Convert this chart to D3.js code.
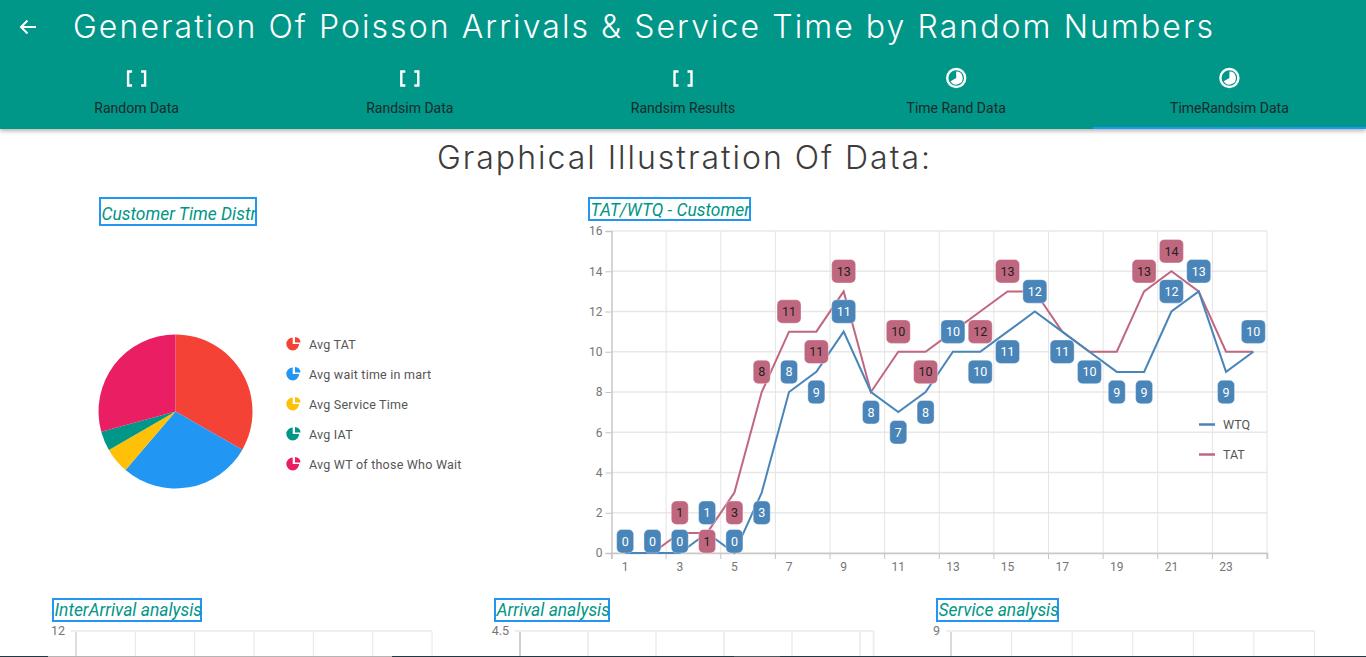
<!DOCTYPE html>
<html><head><meta charset="utf-8">
<script src="https://cdn.jsdelivr.net/npm/d3@7"></script>
<style>html,body{margin:0;padding:0;background:#fff;overflow:hidden}svg{display:block}text{font-family:Roboto,sans-serif}</style>
</head><body><svg id="c" width="1366" height="657"></svg>
<script>
const pageTitle = "Generation Of Poisson Arrivals & Service Time by Random Numbers";
const sectionTitle = "Graphical Illustration Of Data:";
const tabLabels = ["Random Data","Randsim Data","Randsim Results","Time Rand Data","TimeRandsim Data"];
const tabIcons = ["brackets","brackets","brackets","clock","clock"];
const pieLabels = ["Avg TAT","Avg wait time in mart","Avg Service Time","Avg IAT","Avg WT of those Who Wait"];
const pieValues = [33.25,28,5.4,4.1,29.25];
const pieColors = ["#f44336","#2196f3","#ffc107","#009688","#e91e63"];
const customers = d3.range(1,25);
const wtq = [0,0,0,1,0,3,8,9,11,8,7,8,10,10,11,12,11,10,9,9,12,13,9,10];
const tat = [0,0,1,1,3,8,11,11,13,8,10,10,11,12,13,13,11,10,10,13,14,13,10,10];
// label side: +1 above the point, -1 below, 0 not shown
const wtqSide = [-1,-1,-1,1,-1,-1,1,-1,1,-1,-1,-1,1,-1,-1,1,-1,-1,-1,-1,1,1,-1,1];
const tatSide = [0,0,1,-1,-1,1,1,-1,1,0,1,-1,0,-1,1,0,0,0,0,1,1,0,0,0];
const yTicks = [0,2,4,6,8,10,12,14,16];
const seriesNames = ["WTQ","TAT"];
const seriesColors = ["#4a85b9","#c06780"];
const panelTitles = ["InterArrival analysis","Arrival analysis","Service analysis"];
const panelTops = ["12","4.5","9"];
const panelGrid = [[0,1,2,3,4,5,6],[0,1,2,3,4,5,5.2],[0,1,2,3,4,5,6]];

const svg = d3.select("#c");
const defs = svg.append("defs");
const sh = defs.append("filter").attr("id","sh").attr("x","-5%").attr("y","-5%").attr("width","110%").attr("height","120%");
sh.append("feDropShadow").attr("dx",0).attr("dy",2).attr("stdDeviation",2).attr("flood-color","#000").attr("flood-opacity",.3);

// header
svg.append("rect").attr("width",1366).attr("height",129).attr("fill","#009688").attr("filter","url(#sh)");
svg.append("path").attr("d","M36 27H21M27.5 20.5L21 27L27.5 33.5").attr("fill","none").attr("stroke","#fff").attr("stroke-width",2);
svg.append("text").attr("x",73).attr("y",38).attr("fill","#fff").attr("textLength",1140).attr("lengthAdjust","spacing").style("font-family","Inter").style("font-weight",300).style("font-size","32px").text(pageTitle);
const tabX = d3.scaleBand().domain(tabLabels).range([0,1366]);
const tabs = svg.selectAll("g.tab").data(tabLabels).join("g").attr("class","tab").attr("transform",d=>`translate(${tabX(d)+tabX.bandwidth()/2},0)`);
tabs.append("text").attr("text-anchor","middle").attr("y",113).attr("fill","#1c2a2a").style("font-size","14px").text(d=>d);
tabs.each(function(d,i){
  const g=d3.select(this);
  if(tabIcons[i]==="brackets"){
    g.append("path").attr("d","M-4.5 71.5H-8.5V85.5H-4.5M4.5 71.5H8.5V85.5H4.5").attr("fill","none").attr("stroke","#fff").attr("stroke-width",2.4);
  } else {
    g.append("circle").attr("cy",78).attr("r",9).attr("fill","none").attr("stroke","#fff").attr("stroke-width",2.4);
    g.append("path").attr("d",d3.arc()({innerRadius:0,outerRadius:6.5,startAngle:0,endAngle:4.2})).attr("transform","translate(0,78)").attr("fill","#fff");
  }
});
svg.append("rect").attr("x",tabX(tabLabels[4])).attr("y",127).attr("width",tabX.bandwidth()).attr("height",2).attr("fill","#2196f3");
svg.append("text").attr("x",437).attr("y",169).attr("fill","#3c3c3c").attr("textLength",493).attr("lengthAdjust","spacing").style("font-family","Inter").style("font-weight",300).style("font-size","32px").text(sectionTitle);

// boxed titles
function boxed(id,label,x,y,w,h,dy){
  defs.append("clipPath").attr("id",id).append("rect").attr("x",x).attr("y",y).attr("width",w).attr("height",h);
  svg.append("rect").attr("x",x).attr("y",y).attr("width",w).attr("height",h).attr("fill","none").attr("stroke","#2196f3").attr("stroke-width",2);
  svg.append("g").attr("clip-path",`url(#${id})`).append("text").attr("x",x+1.5).attr("y",y+h/2+dy).attr("fill","#009688").style("font-style","italic").style("font-weight",400).style("font-size","17.4px").text(label);
}
boxed("b0","Customer Time Distribution",100,198,156,27,8.5);
boxed("b1","TAT/WTQ - Customer",589,198,161,22,7);
boxed("b2",panelTitles[0],53,599,148,22,5.5);
boxed("b3",panelTitles[1],495,599,114,22,5.5);
boxed("b4",panelTitles[2],937,599,121,22,5.5);

// pie
const pie = d3.pie().sort(null)(pieValues);
const arc = d3.arc().innerRadius(0).outerRadius(77);
svg.append("g").attr("transform","translate(175.5,411.5)").selectAll("path").data(pie).join("path").attr("d",arc).attr("fill",(d,i)=>pieColors[i]);
const legY = d3.scalePoint().domain(pieLabels).range([344.5,464.5]);
const leg = svg.append("g").selectAll("g").data(pieLabels).join("g").attr("transform",d=>`translate(293,${legY(d)})`);
leg.append("path").attr("d",d3.arc()({innerRadius:0,outerRadius:6.4,startAngle:Math.PI/2,endAngle:Math.PI*2})).attr("transform","translate(-.3,-.5)").attr("fill",(d,i)=>pieColors[i]);
leg.append("path").attr("d",d3.arc()({innerRadius:0,outerRadius:5.5,startAngle:0,endAngle:Math.PI/2})).attr("transform","translate(2,-2)").attr("fill",(d,i)=>pieColors[i]);
leg.append("text").attr("x",16).attr("y",4.5).attr("fill","#555").style("font-size","12.5px").style("letter-spacing",".22px").text(d=>d);

// line chart
const x = d3.scaleBand().domain(customers).range([611.5,1267]);
const y = d3.scaleLinear().domain([0,16]).range([553,231]);
const gridX = customers.filter((d,i)=>i%2===0);
const chart = svg.append("g");
chart.append("g").selectAll("line").data(yTicks).join("line").attr("x1",611).attr("x2",1267).attr("y1",d=>y(d)).attr("y2",d=>y(d)).attr("stroke",d=>d===16?"#eeeeee":"#e8e8e8").attr("stroke-width",d=>d===16?2:1.3);
chart.append("g").selectAll("line").data(gridX.slice(1).concat([25])).join("line").attr("x1",d=>d===25?1267:x(d)).attr("x2",d=>d===25?1267:x(d)).attr("y1",231).attr("y2",553).attr("stroke","#e4e4e4").attr("stroke-width",1);
const yAxis = chart.append("g").attr("transform","translate(611.5,0)").call(d3.axisLeft(y).tickValues(yTicks).tickSize(6).tickPadding(3));
const xAxis = chart.append("g").attr("transform","translate(0,553)").call(d3.axisBottom(x).tickValues(gridX).tickSize(6).tickPadding(3));
xAxis.selectAll(".tick line").attr("transform",`translate(${-x.bandwidth()/2},0)`);
xAxis.append("line").attr("x1",1267).attr("x2",1267).attr("y1",0).attr("y2",6).attr("stroke","#c4c4c4");
[yAxis,xAxis].forEach(a=>{a.selectAll(".tick text").attr("fill","#757575").style("font-size","12px").style("font-family","Roboto");a.selectAll(".tick line").attr("stroke","#c4c4c4");a.select(".domain").attr("stroke","#c8c8c8").attr("stroke-width",1.5);});
const px = i=>x(customers[i])+x.bandwidth()/2;
const line = d3.line().x((d,i)=>px(i)).y(d=>y(d));
[tat,wtq].forEach((s,k)=>chart.append("path").attr("d",line(s)).attr("fill","none").attr("stroke",seriesColors[1-k]).attr("stroke-width",2));
function labels(vals,side,color,tcolor,weight){
  const g=chart.append("g");
  vals.forEach((v,i)=>{
    if(!side[i])return;
    const t=String(v), w=t.length>1?24:17, h=23.5;
    const cy=Math.min(y(v+side[i]),y(0)-h/2);
    g.append("rect").attr("x",px(i)-w/2).attr("y",cy-h/2).attr("width",w).attr("height",h).attr("rx",5).attr("fill",color).attr("stroke","#fff").attr("stroke-opacity",.35).attr("stroke-width",1);
    g.append("text").attr("x",px(i)).attr("y",cy+4.5).attr("text-anchor","middle").attr("fill",tcolor).style("font-size","12.5px").style("font-weight",weight).text(t);
  });
}
labels(tat,tatSide,seriesColors[1],"#222",400);
labels(wtq,wtqSide,seriesColors[0],"#fff",400);
const sleg = d3.scalePoint().domain(seriesNames).range([424.5,454.5]);
const sl = chart.append("g").selectAll("g").data(seriesNames).join("g").attr("transform",d=>`translate(1199,${sleg(d)})`);
sl.append("line").attr("x2",16).attr("stroke",(d,i)=>seriesColors[i]).attr("stroke-width",2.5);
sl.append("text").attr("x",24).attr("y",4.5).attr("fill","#555").style("font-size","12.5px").text(d=>d);

// bottom panels (cut off by the window)
const panelX = [[76,432],[520,860],[951,1314.5]];
const panelStroke = [["#bdbdbd","#e6e6e6",1],["#cfcfcf","#f0f0f0",2],["#b5b5b5","#e6e6e6",1]];
panelGrid.forEach((g,k)=>{
  const sx=d3.scaleLinear().domain(k===1?[0,5]:[0,6]).range(panelX[k]);
  const p=svg.append("g");
  p.selectAll("line.v").data(g).join("line").attr("x1",d=>sx(d)).attr("x2",d=>sx(d)).attr("y1",631).attr("y2",657).attr("stroke",(d,i)=>i===0?panelStroke[k][0]:panelStroke[k][1]).attr("stroke-width",panelStroke[k][2]);
  p.append("line").attr("x1",panelX[k][0]-5).attr("x2",sx(g[g.length-1])).attr("y1",631).attr("y2",631).attr("stroke","#eeeeee").attr("stroke-width",2);
  p.append("text").attr("x",panelX[k][0]-11).attr("y",635).attr("text-anchor","end").attr("fill","#757575").style("font-size","12.5px").text(panelTops[k]);
});
const footer = [[0,1366,"#1f3a45"],[48,392,"#b5b5b5"],[734,780,"#4a5a60"]];
svg.append("g").selectAll("rect").data(footer).join("rect").attr("x",d=>d[0]).attr("y",656).attr("width",d=>d[1]-d[0]).attr("height",1).attr("fill",d=>d[2]);
</script></body></html>
